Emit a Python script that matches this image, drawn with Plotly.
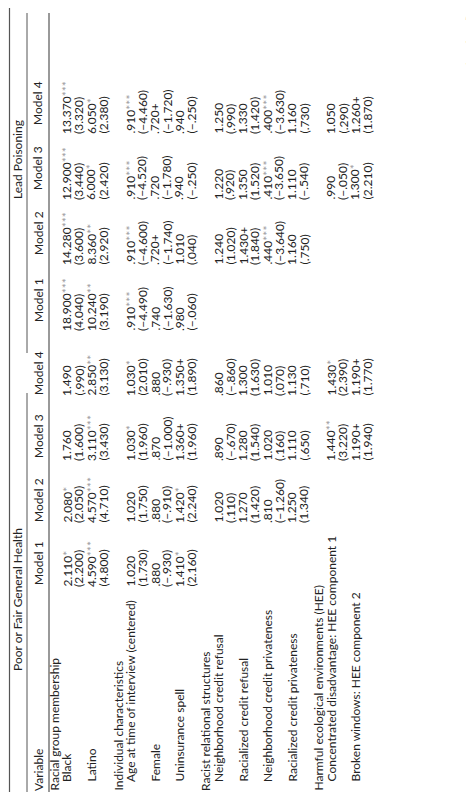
import plotly.graph_objects as go

W, H = 474, 792
variables = ["Black", "Latino", "Age at time of interview (centered)", "Female", "Uninsurance spell",
             "Neighborhood credit refusal", "Racialized credit refusal", "Neighborhood credit privateness",
             "Racialized credit privateness", "Concentrated disadvantage: HEE component 1",
             "Broken windows: HEE component 2"]
groups = ["Racial group membership", "Individual characteristics", "Racist relational structures",
          "Harmful ecological environments (HEE)"]
group_start = [0, 2, 5, 9]
models = ["Model 1", "Model 2", "Model 3", "Model 4"] * 2
outcomes = ["Poor or Fair General Health", "Lead Poisoning"]

pf1 = ["2.110*", "(2.200)", "4.590***", "(4.800)", "1.020", "(1.730)", ".880", "(−.930)", "1.410*", "(2.160)"] + [""] * 12
pf2 = ["2.080*", "(2.050)", "4.570***", "(4.710)", "1.020", "(1.750)", ".880", "(−.910)", "1.420*", "(2.240)",
       "1.020", "(.110)", "1.270", "(1.420)", ".810", "(−1.260)", "1.250", "(1.340)"] + [""] * 4
pf3 = ["1.760", "(1.600)", "3.110***", "(3.430)", "1.030*", "(1.960)", ".870", "(−1.000)", "1.360+", "(1.960)",
       ".890", "(−.670)", "1.280", "(1.540)", "1.020", "(.160)", "1.110", "(.650)", "1.440**", "(3.220)", "1.190+", "(1.940)"]
pf4 = ["1.490", "(.990)", "2.850**", "(3.130)", "1.030*", "(2.010)", ".880", "(−.930)", "1.350+", "(1.890)",
       ".860", "(−.860)", "1.300", "(1.630)", "1.010", "(.070)", "1.130", "(.710)", "1.430*", "(2.390)", "1.190+", "(1.770)"]
lp1 = ["18.900***", "(4.040)", "10.240**", "(3.190)", ".910***", "(−4.490)", ".740", "(−1.630)", ".980", "(−.060)"] + [""] * 12
lp2 = ["14.280***", "(3.600)", "8.360**", "(2.920)", ".910***", "(−4.600)", ".720+", "(−1.740)", "1.010", "(.040)",
       "1.240", "(1.020)", "1.430+", "(1.840)", ".440***", "(−3.640)", "1.160", "(.750)"] + [""] * 4
lp3 = ["12.900***", "(3.440)", "6.000*", "(2.420)", ".910***", "(−4.520)", ".720", "(−1.780)", ".940", "(−.250)",
       "1.220", "(.920)", "1.350", "(1.520)", ".410***", "(−3.650)", "1.110", "(−.540)", ".990", "(−.050)", "1.300*", "(2.210)"]
lp4 = ["13.370***", "(3.320)", "6.050*", "(2.380)", ".910***", "(−4.460)", ".720+", "(−1.720)", ".940", "(−.250)",
       "1.250", "(.990)", "1.330", "(1.420)", ".400***", "(−3.630)", "1.160", "(.730)", "1.050", "(.290)", "1.260+", "(1.870)"]
cols = [pf1, pf2, pf3, pf4, lp1, lp2, lp3, lp4]

FONT = "Lato"
C = "#222"
anns, shapes = [], []

def px(x): return x / W
def py(y): return 1 - y / H

def txt(x, y, s, anchor="bottom", size=12, color=C):
    anns.append(dict(x=px(x), y=py(y), xref="paper", yref="paper", text=s, showarrow=False,
                     textangle=-90, xanchor="center", yanchor=anchor,
                     font=dict(family=FONT, size=size, color=color)))

def vline(x, y0, y1, w=1, color="#555"):
    shapes.append(dict(type="line", xref="paper", yref="paper", x0=px(x), x1=px(x),
                       y0=py(y0), y1=py(y1), line=dict(color=color, width=w)))

def star(s):
    core = s.rstrip("*+")
    suf = s[len(core):]
    if "*" in suf:
        return core + '<span style="color:#999">' + suf + "</span>"
    return s

# rules
vline(1.5, 0, H, 1.2)
vline(19, 385, 790, 1)
vline(19, 5, 345, 1)
vline(41, 5, 790, 1.2)

# headers
txt(9, 592, outcomes[0], "middle")
txt(9, 152, outcomes[1], "middle")
txt(30, 785, "Variable")
model_y = [555, 492, 428, 365, 292, 225, 160, 95]
for m, y in zip(models, model_y):
    txt(30, y, m, "middle")

# rows
x = 46
row_x = []
vi = 0
for gi, g in enumerate(groups):
    txt(x, 785, g)
    x += 12.5
    nvars = (group_start[gi + 1] if gi + 1 < len(group_start) else len(variables)) - group_start[gi]
    for k in range(nvars):
        txt(x, 776, variables[vi])
        row_x.append(x)
        row_x.append(x + 12)
        vi += 1
        x += 24.5
    x += 2

num_bottom = [581, 517, 455, 390, 325, 259, 194, 128]
for col, yb in zip(cols, num_bottom):
    for rx, s in zip(row_x, col):
        if s:
            txt(rx, yb, star(s))

txt(462, 6, "<i>(continued)</i>", "top", size=11)

fig = go.Figure()
fig.update_layout(width=W, height=H, margin=dict(l=0, r=0, t=0, b=0),
                  paper_bgcolor="white", plot_bgcolor="white",
                  xaxis=dict(visible=False), yaxis=dict(visible=False),
                  annotations=anns, shapes=shapes)
fig.write_html("out.html")
